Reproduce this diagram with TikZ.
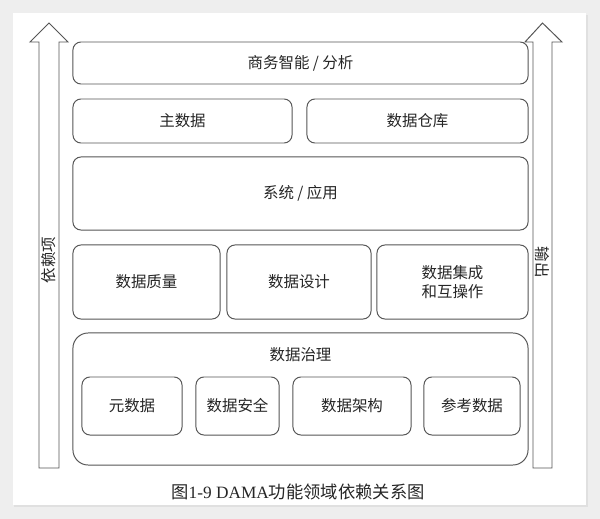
\documentclass[tikz,border=0pt]{standalone}
\usepackage{fontspec}
\setmainfont{Liberation Serif}
\newfontfamily\cjk{Noto Sans CJK SC}
\usetikzlibrary{positioning}

\definecolor{linegray}{HTML}{555555}
\definecolor{pagegray}{HTML}{EEEEEE}

\begin{document}
\begin{tikzpicture}[
    x=0.025cm, y=-0.025cm,
    box/.style={draw=linegray, line width=0.7pt, rectangle, rounded corners=0.2cm, inner sep=0pt, align=center},
    bigbox/.style={box, rounded corners=0.38cm},
    label/.style={font=\cjk\fontsize{11}{13.5}\selectfont, text=black!85},
    flow/.style={draw=linegray, line width=0.7pt, fill=white, line join=miter},
    side/.style={font=\cjk\fontsize{11}{13}\selectfont, text=black!85}
]

%-------------------------------------------------
% Page and card
%-------------------------------------------------
\fill[pagegray] (0,0) rectangle (600,519);
\fill[black!12] (14,15) rectangle (588,507);
\fill[white] (13,13) rectangle (586,505);
\useasboundingbox (0,0) rectangle (600,519);

%-------------------------------------------------
% Side arrows
%-------------------------------------------------
\draw[flow] (39,468) -- (39,42) -- (30,42) -- (49,23) -- (68,42) -- (59,42) -- (59,468) -- cycle;
\draw[flow] (533,468) -- (533,42) -- (525,42) -- (542.5,23) -- (562,42) -- (552,42) -- (552,468) -- cycle;
\node[side, rotate=90]  (deps) at (49,260)    {依赖项};
\node[side, rotate=-90] (outs) at (542.5,262) {输出};

%-------------------------------------------------
% Upper layers
%-------------------------------------------------
\node[box, label, minimum width=11.375cm, minimum height=1.05cm] (bi)     at (300.5,63)  {商务智能 / 分析};
\node[box, label, minimum width=5.475cm,  minimum height=1.1cm]  (master) at (182.5,121) {主数据};
\node[box, label, minimum width=5.525cm,  minimum height=1.1cm]  (dw)     at (417.5,121) {数据仓库};
\node[box, label, minimum width=11.375cm, minimum height=1.825cm] (sys)   at (300.5,193.5) {系统 / 应用};

%-------------------------------------------------
% Middle layer
%-------------------------------------------------
\node[box, label, minimum width=3.675cm, minimum height=1.85cm] (quality) at (146.5,282) {数据质量};
\node[box, label, minimum width=3.6cm,   minimum height=1.85cm] (design)  at (299,282)   {数据设计};
\node[box, label, minimum width=3.775cm, minimum height=1.85cm] (integ)   at (452.5,282) {数据集成\\和互操作};

%-------------------------------------------------
% Data governance
%-------------------------------------------------
\node[bigbox, minimum width=11.375cm, minimum height=3.3cm] (gov) at (300.5,399) {};
\node[label] (govtitle) at (300.5,355) {数据治理};
\node[box, label, minimum width=2.5cm,   minimum height=1.45cm] (meta) at (132,406)   {元数据};
\node[box, label, minimum width=2.075cm, minimum height=1.45cm] (sec)  at (237.5,406) {数据安全};
\node[box, label, minimum width=2.95cm,  minimum height=1.45cm] (arch) at (352,406)   {数据架构};
\node[box, label, minimum width=2.4cm,   minimum height=1.45cm] (ref)  at (472,406)   {参考数据};

%-------------------------------------------------
% Caption
%-------------------------------------------------
\node[font=\fontsize{12.3}{15}\selectfont, text=black!85] (caption) at (298,492)
    {{\cjk 图}1-9 DAMA{\cjk 功能领域依赖关系图}};

\end{tikzpicture}
\end{document}
